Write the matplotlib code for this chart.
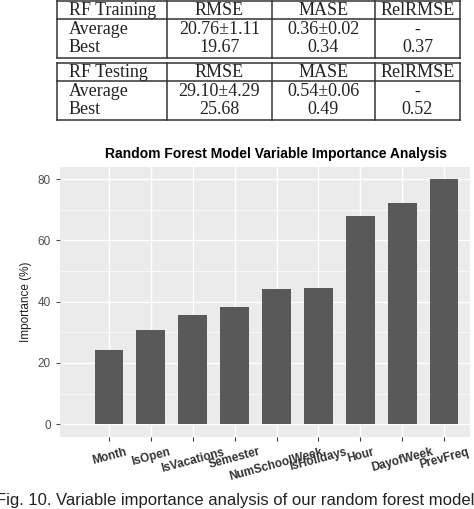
import matplotlib
matplotlib.use("Agg")
import matplotlib.pyplot as plt
import numpy as np

variables = ["Month", "IsOpen", "IsVacations", "Semester", "NumSchoolWeek",
             "IsHolidays", "Hour", "DayofWeek", "PrevFreq"]
importance = [24.2, 30.9, 35.8, 38.2, 44.2, 44.5, 68.0, 72.4, 80.2]
yticks = [0, 20, 40, 60, 80]

train_header = ["RF Training", "RMSE", "MASE", "RelRMSE"]
train_rows = [["Average", "20.76±1.11", "0.36±0.02", "-"],
              ["Best", "19.67", "0.34", "0.37"]]
test_header = ["RF Testing", "RMSE", "MASE", "RelRMSE"]
test_rows = [["Average", "29.10±4.29", "0.54±0.06", "-"],
             ["Best", "25.68", "0.49", "0.52"]]

W, H = 474, 509
fig = plt.figure(figsize=(W/100, H/100), dpi=100)
sans = ["Liberation Sans", "DejaVu Sans"]

def fx(x): return x / W
def fy(y): return 1 - y / H

def draw_table(top, header, rows):
    cols = [57, 167, 272, 375, 460]
    hdr_bot = top + 18
    bot = top + 57
    lw = 1.1
    for y in [top, hdr_bot, bot]:
        fig.add_artist(plt.Line2D([fx(cols[0]), fx(cols[-1])], [fy(y), fy(y)], color="#333", lw=lw))
    for x in cols:
        fig.add_artist(plt.Line2D([fx(x), fx(x)], [fy(top), fy(bot)], color="#333", lw=lw))
    kw = dict(family=["Liberation Serif", "DejaVu Serif"], fontsize=13, va="center", color="#222")
    ys = [top + 9.5, hdr_bot + 11, hdr_bot + 29]
    for r, row in enumerate([header] + rows):
        for c, t in enumerate(row):
            if c == 0:
                fig.text(fx(cols[0] + 12), fy(ys[r]), t, ha="left", **kw)
            else:
                fig.text(fx((cols[c] + cols[c+1]) / 2), fy(ys[r]), t, ha="center", **kw)

draw_table(1, train_header, train_rows)
draw_table(63, test_header, test_rows)

ax = fig.add_axes([fx(60), fy(437), fx(470) - fx(60), fy(167) - fy(437)])
ax.set_facecolor("#EBEBEB")
x = np.arange(len(variables))
ax.bar(x, importance, width=0.69, color="#595959", zorder=3)
ax.set_xlim(-1.17, 8.62)
ax.set_ylim(-4.2, 84)
ax.set_yticks(yticks)
ax.set_yticks([10, 30, 50, 70], minor=True)
ax.grid(True, which="major", color="white", lw=1.0, zorder=0)
ax.grid(True, which="minor", axis="y", color="white", lw=0.5, zorder=0)
ax.set_xticks(x)
ax.set_xticklabels(variables, rotation=15, fontsize=8.5, fontweight="bold", color="#333",
                   family=sans)
for t in ax.get_yticklabels():
    t.set_family(sans)
ax.tick_params(axis="y", labelsize=8.5, colors="#4D4D4D", length=3)
ax.tick_params(axis="x", colors="#333", length=3)
ax.tick_params(which="minor", length=0)
for s in ax.spines.values():
    s.set_visible(False)
ax.set_ylabel("Importance (%)", fontsize=8.5, color="#222", family=sans)
fig.text(fx(276), fy(154), "Random Forest Model Variable Importance Analysis",
         ha="center", va="center", fontsize=10, fontweight="bold", family=sans)
fig.text(fx(237), fy(500), "Fig. 10. Variable importance analysis of our random forest model.",
         ha="center", va="center", fontsize=12, color="#222", family=sans)

fig.savefig("out.png", dpi=100)
